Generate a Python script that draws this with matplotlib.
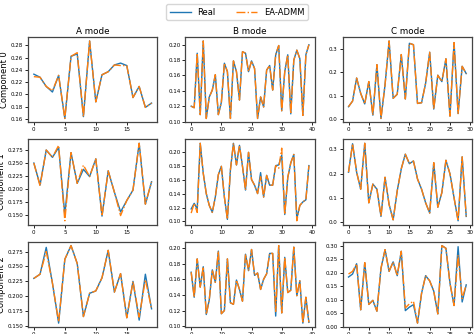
import numpy as np
import matplotlib
matplotlib.use("Agg")
import matplotlib.pyplot as plt
from matplotlib.ticker import MultipleLocator

modes = ["A mode", "B mode", "C mode"]
components = ["Component 0", "Component 1", "Component 2"]

# row 0
real_a0 = [0.233, 0.228, 0.213, 0.204, 0.231, 0.161, 0.262, 0.266, 0.164, 0.287,
           0.188, 0.232, 0.237, 0.248, 0.251, 0.247, 0.195, 0.213, 0.179, 0.186]
est_a0 = [0.229, 0.228, 0.213, 0.206, 0.231, 0.161, 0.262, 0.268, 0.164, 0.287,
          0.188, 0.232, 0.237, 0.248, 0.247, 0.247, 0.195, 0.213, 0.179, 0.186]
real_b0 = [0.120, 0.118, 0.189, 0.109, 0.205, 0.104, 0.132, 0.141, 0.161, 0.109,
           0.125, 0.176, 0.165, 0.104, 0.179, 0.165, 0.128, 0.191, 0.189, 0.165,
           0.179, 0.169, 0.104, 0.132, 0.119, 0.167, 0.173, 0.141, 0.187, 0.199,
           0.114, 0.165, 0.187, 0.110, 0.180, 0.193, 0.182, 0.108, 0.187, 0.200]
est_b0 = list(real_b0)
real_c0 = [0.053, 0.077, 0.175, 0.110, 0.065, 0.160, 0.017, 0.232, 0.003, 0.146,
           0.333, 0.089, 0.106, 0.275, 0.086, 0.323, 0.317, 0.067, 0.070, 0.153,
           0.285, 0.043, 0.187, 0.160, 0.257, 0.013, 0.326, 0.024, 0.225, 0.194]
est_c0 = list(real_c0)

# row 1
real_a1 = [0.249, 0.207, 0.274, 0.260, 0.279, 0.150, 0.269, 0.210, 0.237, 0.223,
           0.257, 0.147, 0.234, 0.193, 0.155, 0.177, 0.197, 0.287, 0.170, 0.213]
est_a1 = [0.249, 0.205, 0.274, 0.260, 0.283, 0.138, 0.269, 0.210, 0.245, 0.223,
          0.257, 0.147, 0.234, 0.193, 0.148, 0.177, 0.197, 0.287, 0.170, 0.213]
real_b1 = [0.118, 0.126, 0.118, 0.212, 0.169, 0.140, 0.123, 0.113, 0.135, 0.167,
           0.179, 0.135, 0.103, 0.174, 0.212, 0.181, 0.209, 0.179, 0.145, 0.199,
           0.160, 0.152, 0.140, 0.170, 0.135, 0.166, 0.152, 0.152, 0.180, 0.181,
           0.195, 0.110, 0.163, 0.184, 0.196, 0.104, 0.123, 0.128, 0.131, 0.180]
est_b1 = [0.112, 0.126, 0.113, 0.212, 0.169, 0.140, 0.123, 0.113, 0.135, 0.167,
          0.179, 0.135, 0.103, 0.174, 0.212, 0.181, 0.209, 0.179, 0.145, 0.199,
          0.160, 0.152, 0.140, 0.164, 0.135, 0.166, 0.152, 0.152, 0.180, 0.176,
          0.205, 0.110, 0.163, 0.184, 0.196, 0.101, 0.123, 0.128, 0.131, 0.180]
real_c1 = [0.206, 0.323, 0.206, 0.136, 0.325, 0.080, 0.157, 0.136, 0.024, 0.185,
           0.073, 0.010, 0.129, 0.220, 0.280, 0.241, 0.252, 0.178, 0.136, 0.080,
           0.038, 0.245, 0.062, 0.122, 0.255, 0.199, 0.101, 0.006, 0.269, 0.024]
est_c1 = list(real_c1)

# row 2
real_a2 = [0.230, 0.237, 0.282, 0.222, 0.155, 0.262, 0.285, 0.255, 0.166, 0.205,
           0.209, 0.231, 0.277, 0.207, 0.238, 0.164, 0.225, 0.160, 0.237, 0.179]
est_a2 = [0.230, 0.237, 0.275, 0.222, 0.157, 0.262, 0.285, 0.255, 0.166, 0.205,
          0.209, 0.231, 0.277, 0.207, 0.238, 0.164, 0.225, 0.165, 0.228, 0.179]
real_b2 = [0.169, 0.137, 0.186, 0.150, 0.176, 0.115, 0.134, 0.172, 0.156, 0.196,
           0.116, 0.120, 0.186, 0.130, 0.128, 0.159, 0.147, 0.132, 0.192, 0.171,
           0.198, 0.165, 0.168, 0.147, 0.160, 0.167, 0.193, 0.193, 0.113, 0.203,
           0.117, 0.188, 0.143, 0.146, 0.201, 0.139, 0.158, 0.104, 0.137, 0.105]
est_b2 = [0.169, 0.137, 0.186, 0.150, 0.176, 0.115, 0.134, 0.172, 0.156, 0.196,
          0.116, 0.120, 0.186, 0.130, 0.128, 0.159, 0.147, 0.132, 0.192, 0.171,
          0.198, 0.165, 0.168, 0.147, 0.160, 0.167, 0.193, 0.193, 0.119, 0.203,
          0.117, 0.188, 0.143, 0.146, 0.201, 0.139, 0.158, 0.104, 0.137, 0.105]
real_c2 = [0.184, 0.195, 0.233, 0.063, 0.237, 0.083, 0.098, 0.058, 0.216, 0.285,
           0.205, 0.240, 0.189, 0.279, 0.060, 0.073, 0.082, 0.014, 0.124, 0.189,
           0.170, 0.132, 0.048, 0.300, 0.290, 0.161, 0.079, 0.296, 0.092, 0.155]
est_c2 = [0.195, 0.205, 0.233, 0.063, 0.237, 0.083, 0.098, 0.058, 0.216, 0.285,
          0.205, 0.240, 0.189, 0.279, 0.070, 0.085, 0.095, 0.014, 0.124, 0.189,
          0.170, 0.132, 0.048, 0.300, 0.290, 0.161, 0.079, 0.265, 0.105, 0.155]

real = [[real_a0, real_b0, real_c0], [real_a1, real_b1, real_c1], [real_a2, real_b2, real_c2]]
est = [[est_a0, est_b0, est_c0], [est_a1, est_b1, est_c1], [est_a2, est_b2, est_c2]]

y_steps = [[0.02, 0.02, 0.1], [0.025, 0.02, 0.1], [0.025, 0.02, 0.05]]
x_steps = [5, 10, 5]

fig, axes = plt.subplots(3, 3, figsize=(4.74, 3.34), dpi=100)
fig.subplots_adjust(left=0.059, right=0.996, top=0.889, bottom=0.021, wspace=0.215, hspace=0.2)

for r in range(3):
    for c in range(3):
        ax = axes[r][c]
        x = np.arange(len(real[r][c]))
        ax.plot(x, real[r][c], color="tab:blue", lw=1.0, label="Real")
        ax.plot(x, est[r][c], color="tab:orange", lw=1.0, ls="-.", label="EA-ADMM")
        ax.xaxis.set_major_locator(MultipleLocator(x_steps[c]))
        ax.yaxis.set_major_locator(MultipleLocator(y_steps[r][c]))
        ax.tick_params(labelsize=4, length=2, width=0.6, pad=1.5)
        for s in ax.spines.values():
            s.set_color("#444444")
            s.set_linewidth(0.9)
        if r == 0:
            ax.set_title(modes[c], fontsize=6.3, pad=2)
        if c == 0:
            ax.set_ylabel(components[r], fontsize=6, labelpad=1)

h, l = axes[0][0].get_legend_handles_labels()
fig.legend(h, l, loc="upper center", bbox_to_anchor=(0.5, 1.0), ncol=2, fontsize=6,
           frameon=True, handlelength=2.5, columnspacing=2.5, borderpad=0.4)

fig.savefig("out.png", dpi=100)
